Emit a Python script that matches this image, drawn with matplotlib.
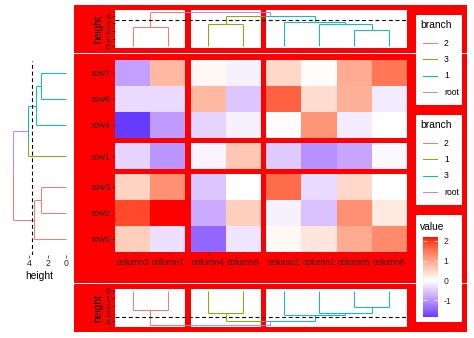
import numpy as np
import matplotlib
matplotlib.use("Agg")
import matplotlib.pyplot as plt
from matplotlib.colors import ListedColormap, Normalize
from matplotlib.patches import Rectangle

plt.rcParams["font.family"] = ["Liberation Sans", "DejaVu Sans"]
plt.rcParams["axes.unicode_minus"] = False

W, H = 474, 338

# ---- data -----------------------------------------------------------------
row_names = ["row7", "row6", "row4", "row1", "row3", "row2", "row5"]
col_names = ["column3", "column7", "column4", "column6",
             "column1", "column2", "column5", "column8"]
row_slices = [3, 1, 3]
col_slices = [2, 2, 4]

values = np.array([
    [-0.90, 0.80, 0.10, -0.15, 0.45, 0.05, 0.95, 1.50],    # row7
    [-0.35, -0.35, 0.80, -0.55, 1.70, 0.40, 0.90, -0.20],  # row6
    [-1.85, -0.95, -0.40, -0.15, 0.05, 1.20, -0.20, -0.03],  # row4
    [-0.40, -1.00, -0.12, 0.65, -0.50, -1.05, -0.85, -0.08],  # row1
    [0.50, 1.25, -0.55, -0.03, 1.60, -0.35, 0.45, 0.00],   # row3
    [1.90, 2.20, -0.80, 0.55, -0.15, -0.60, 1.25, 0.25],   # row2
    [0.55, -0.30, -1.45, -0.25, 0.10, 0.30, 0.95, 1.30],   # row5
])

# merges: (left, right, height); int = index of an earlier merge
col_merges = [
    ("column3", "column7", 2.50),
    ("column4", "column6", 2.85),
    ("column5", "column8", 2.10),
    ("column2", 2, 2.85),
    ("column1", 3, 3.10),
    (1, 4, 3.90),
    (0, 5, 4.50),
]
col_branch = {"column3": "2", "column7": "2", "column4": "3", "column6": "3",
              "column1": "1", "column2": "1", "column5": "1", "column8": "1"}
col_levels = ["2", "3", "1", "root"]
col_cut = 3.45

row_merges = [
    ("row7", "row6", 2.73),
    (0, "row4", 3.24),
    (1, "row1", 4.08),
    ("row3", "row2", 2.73),
    (3, "row5", 3.46),
    (2, 4, 5.76),
]
row_branch = {"row7": "3", "row6": "3", "row4": "3", "row1": "1",
              "row3": "2", "row2": "2", "row5": "2"}
row_levels = ["2", "1", "3", "root"]
row_cut = 3.70

hue = ["#F8766D", "#7CAE00", "#00BFC4", "#C77CFF"]
col_colors = dict(zip(col_levels, hue))
row_colors = dict(zip(row_levels, hue))

RED = "#FF0000"
TXT = "#262626"
TICK = "#262626"
FS = 6.2


# ---- blue-white-red gradient interpolated in Lab --------------------------
M = np.array([[0.4124, 0.3576, 0.1805],
              [0.2126, 0.7152, 0.0722],
              [0.0193, 0.1192, 0.9505]])
WHITE = np.array([0.95047, 1.0, 1.08883])


def hex_to_lab(h):
    rgb = np.array([int(h[i:i + 2], 16) for i in (1, 3, 5)]) / 255
    lin = np.where(rgb <= 0.04045, rgb / 12.92, ((rgb + 0.055) / 1.055) ** 2.4)
    xyz = M @ lin / WHITE
    f = np.where(xyz > 0.008856, np.cbrt(xyz), 7.787 * xyz + 16 / 116)
    return np.array([116 * f[1] - 16, 500 * (f[0] - f[1]), 200 * (f[1] - f[2])])


def lab_to_rgb(lab):
    fy = (lab[:, 0] + 16) / 116
    f = np.stack([fy + lab[:, 1] / 500, fy, fy - lab[:, 2] / 200], 1)
    xyz = np.where(f ** 3 > 0.008856, f ** 3, (f - 16 / 116) / 7.787) * WHITE
    lin = xyz @ np.linalg.inv(M).T
    lin = np.clip(lin, 0, None)
    rgb = np.where(lin <= 0.0031308, 12.92 * lin, 1.055 * lin ** (1 / 2.4) - 0.055)
    return np.clip(rgb, 0, 1)


t = np.linspace(0, 1, 128)[:, None]
lo = hex_to_lab("#0000FF") * (1 - t) + hex_to_lab("#FFFFFF") * t
hi = hex_to_lab("#FFFFFF") * (1 - t) + hex_to_lab("#FF0000") * t
cmap = ListedColormap(lab_to_rgb(np.vstack([lo, hi])))
vmax_abs = np.abs(values).max()
norm = Normalize(-vmax_abs, vmax_abs)


# ---- layout helpers --------------------------------------------------------
def px_axes(fig, x0, y0, x1, y1):
    return fig.add_axes([x0 / W, 1 - y1 / H, (x1 - x0) / W, (y1 - y0) / H])


def slice_edges(start, size, gap, counts):
    edges, p = [], start
    for n in counts:
        edges.append(p + size * np.arange(n + 1))
        p += n * size + gap
    return edges


def tree_segments(merges, leaf_pos, leaf_branch, colors):
    nodes, segs = [], []

    def get(ref):
        if isinstance(ref, str):
            return (leaf_pos[ref], 0.0, leaf_branch[ref], [ref])
        return nodes[ref]

    for a, b, h in merges:
        A, B = get(a), get(b)
        split = (leaf_pos[A[3][-1]] + leaf_pos[B[3][0]]) / 2
        segs.append((A[0], A[1], A[0], h, colors[A[2]]))
        segs.append((B[0], B[1], B[0], h, colors[B[2]]))
        segs.append((A[0], h, split, h, colors[A[2]]))
        segs.append((split, h, B[0], h, colors[B[2]]))
        br = A[2] if A[2] == B[2] else "root"
        nodes.append(((A[0] + B[0]) / 2, h, br, A[3] + B[3]))
    return segs


col_edges = slice_edges(115, 35.2, 5.2, col_slices)
row_edges = slice_edges(60, 26, 5, row_slices)
col_centers = np.concatenate([(e[:-1] + e[1:]) / 2 for e in col_edges])
row_centers = np.concatenate([(e[:-1] + e[1:]) / 2 for e in row_edges])
col_pos = dict(zip(col_names, col_centers))
row_pos = dict(zip(row_names, row_centers))

fig = plt.figure(figsize=(W / 100, H / 100), dpi=100)

# background panels and legend boxes
bg = fig.add_axes([0, 0, 1, 1], zorder=-5)
bg.set_xlim(0, W)
bg.set_ylim(H, 0)
bg.axis("off")
for y0, y1 in [(5, 53), (54, 283), (284, 332)]:
    bg.add_patch(Rectangle((74, y0), 393, y1 - y0, color=RED, lw=0))
for y0, y1 in [(15, 105), (115, 205), (215, 322)]:
    bg.add_patch(Rectangle((416, y0), 46, y1 - y0, color="white", lw=0))

for top, levels, colors in [(15, col_levels, col_colors), (115, row_levels, row_colors)]:
    bg.text(420, top + 10, "branch", fontsize=7.4, va="center", ha="left")
    for k, lev in enumerate(levels):
        yy = top + 28 + k * 16.4
        bg.plot([423, 437], [yy, yy], color=colors[lev], lw=0.7)
        bg.text(444, yy, lev, fontsize=FS, va="center", ha="left")
bg.text(420, 227, "value", fontsize=7.4, va="center", ha="left")

# ---- heatmap ---------------------------------------------------------------
ax = px_axes(fig, 115, 60, 407, 252)
ax.set_facecolor("none")
r0 = 0
for ye, nr in zip(row_edges, row_slices):
    c0 = 0
    for xe, nc in zip(col_edges, col_slices):
        mesh = ax.pcolormesh(xe, ye, values[r0:r0 + nr, c0:c0 + nc],
                             cmap=cmap, norm=norm)
        c0 += nc
    r0 += nr
ax.set_xlim(115, 407)
ax.set_ylim(252, 60)
ax.set_xticks(col_centers)
ax.set_xticklabels(col_names)
ax.set_yticks(row_centers)
ax.set_yticklabels(row_names)
ax.tick_params(length=2, width=0.5, color=TICK, labelsize=FS,
               labelcolor=TXT, pad=1.2)
ax.tick_params(axis="x", pad=2.2)
for s in ax.spines.values():
    s.set_visible(False)

# ---- column dendrograms (top and bottom) -----------------------------------
col_segs = tree_segments(col_merges, col_pos, col_branch, col_colors)
for (y0, y1, flip) in [(10, 48, False), (289, 327, True)]:
    axd = px_axes(fig, 115, y0, 407, y1)
    axd.set_facecolor("none")
    for e in col_edges:
        axd.axvspan(e[0], e[-1], color="white", lw=0, zorder=0)
    for p1, h1, p2, h2, c in col_segs:
        axd.plot([p1, p2], [h1, h2], color=c, lw=0.7, solid_capstyle="butt")
    axd.axhline(col_cut, color="black", lw=0.8, ls=(0, (3.5, 2.5)))
    axd.set_xlim(115, 407)
    if flip:
        axd.set_ylim(4.725, -0.225)
    else:
        axd.set_ylim(-0.225, 4.725)
    axd.set_xticks([])
    axd.set_yticks(range(5))
    axd.tick_params(length=2, width=0.5, color=TICK, labelsize=FS,
                    labelcolor=TXT, pad=1.2)
    axd.set_ylabel("height", fontsize=7.4, labelpad=2)
    for s in axd.spines.values():
        s.set_visible(False)

# ---- row dendrogram ----------------------------------------------------------
axr = px_axes(fig, 10, 61, 69, 255)
axr.set_facecolor("none")
for p1, h1, p2, h2, c in tree_segments(row_merges, row_pos, row_branch, row_colors):
    axr.plot([h1, h2], [p1, p2], color=c, lw=0.7, solid_capstyle="butt")
axr.axvline(row_cut, color="black", lw=0.8, ls=(0, (3.5, 2.5)))
axr.set_xlim(6.05, -0.29)
axr.set_ylim(255, 61)
axr.set_yticks([])
axr.set_xticks([4, 2, 0])
axr.tick_params(length=2, width=0.5, color=TICK, labelsize=FS,
                labelcolor=TXT, pad=1.2)
axr.set_xlabel("height", fontsize=7.4, labelpad=1.5)
for s in axr.spines.values():
    s.set_visible(False)

# ---- colour bar ------------------------------------------------------------
cax = px_axes(fig, 423, 237, 438, 317)
cb = fig.colorbar(mesh, cax=cax,
                  boundaries=np.linspace(values.min(), values.max(), 256))
cb.set_ticks([-1, 0, 1, 2])
cb.outline.set_visible(False)
cax.tick_params(left=True, right=True, labelleft=False, labelright=True,
                direction="in", length=3, width=0.5, color="white",
                labelsize=FS, labelcolor=TXT, pad=4)

fig.savefig("out.png", dpi=100)
